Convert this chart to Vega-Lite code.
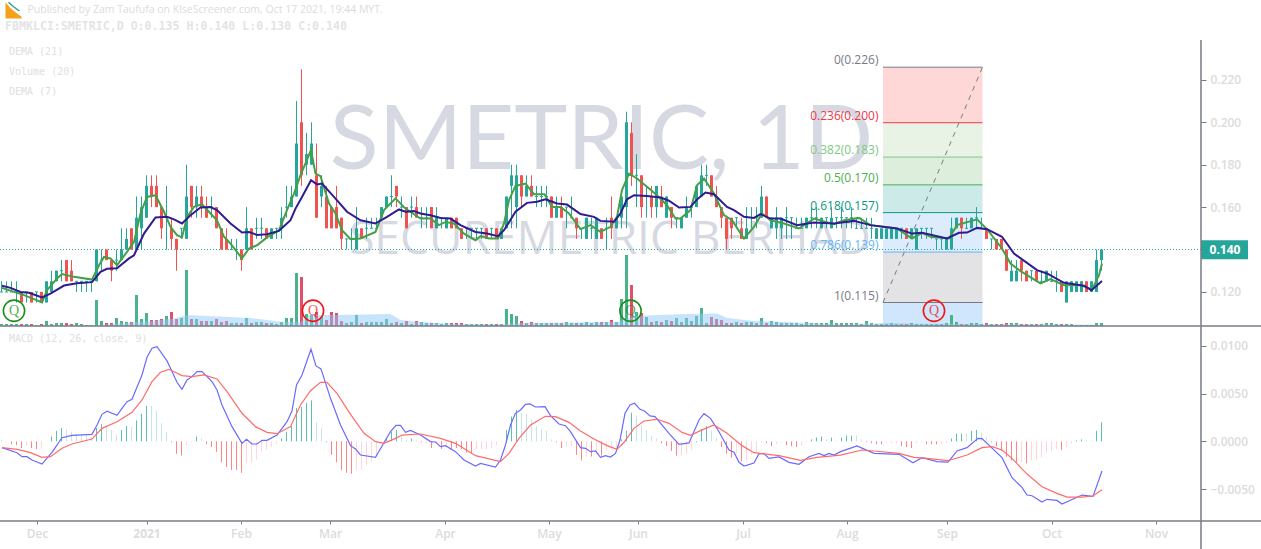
{
"$schema":"https://vega.github.io/schema/vega-lite/v6.json",
"background":"white","padding":{"left":-1,"top":-1,"right":60,"bottom":28},"spacing":0,"bounds":"flush",
"resolve":{"scale":{"color":"independent","fill":"independent","stroke":"independent"}},
"config":{"view":{"stroke":null},"font":"Open Sans"},
"datasets":{
"candles":[
{"i":-7,"o":0.12,"h":0.125,"l":0.12,"c":0.12,"v":2,"d":0.00014,"k":"uf"},
{"i":-6,"o":0.12,"h":0.125,"l":0.12,"c":0.12,"v":2,"d":0.00002,"k":"uf"},
{"i":-5,"o":0.12,"h":0.125,"l":0.12,"c":0.12,"v":2,"d":-0.0003,"k":"dn"},
{"i":-4,"o":0.12,"h":0.125,"l":0.115,"c":0.12,"v":2,"d":-0.0004,"k":"dn"},
{"i":-3,"o":0.12,"h":0.12,"l":0.115,"c":0.115,"v":2,"d":-0.0007,"k":"dn"},
{"i":-2,"o":0.12,"h":0.12,"l":0.115,"c":0.12,"v":2,"d":-0.00045,"k":"df"},
{"i":-1,"o":0.12,"h":0.12,"l":0.115,"c":0.115,"v":2,"d":-0.0007,"k":"dn"},
{"i":0,"o":0.12,"h":0.12,"l":0.115,"c":0.12,"v":1,"d":-0.0008,"k":"dn"},
{"i":1,"o":0.12,"h":0.12,"l":0.115,"c":0.115,"v":2,"d":-0.0008,"k":"df"},
{"i":2,"o":0.115,"h":0.125,"l":0.115,"c":0.125,"v":5,"d":-0.00003,"k":"df"},
{"i":3,"o":0.12,"h":0.13,"l":0.12,"c":0.125,"v":2,"d":0.0005,"k":"up"},
{"i":4,"o":0.125,"h":0.13,"l":0.125,"c":0.13,"v":3,"d":0.0011,"k":"up"},
{"i":5,"o":0.13,"h":0.135,"l":0.125,"c":0.13,"v":3,"d":0.0014,"k":"up"},
{"i":6,"o":0.135,"h":0.135,"l":0.125,"c":0.125,"v":3,"d":0.0012,"k":"uf"},
{"i":7,"o":0.13,"h":0.135,"l":0.125,"c":0.125,"v":2,"d":0.001,"k":"uf"},
{"i":8,"o":0.125,"h":0.125,"l":0.12,"c":0.125,"v":3,"d":0.0008,"k":"uf"},
{"i":9,"o":0.125,"h":0.125,"l":0.12,"c":0.125,"v":2,"d":0.0007,"k":"uf"},
{"i":10,"o":0.125,"h":0.125,"l":0.12,"c":0.125,"v":1,"d":0.0006,"k":"uf"},
{"i":11,"o":0.125,"h":0.125,"l":0.12,"c":0.125,"v":1,"d":0.0005,"k":"uf"},
{"i":12,"o":0.125,"h":0.14,"l":0.125,"c":0.14,"v":26,"d":0.0014,"k":"up"},
{"i":13,"o":0.135,"h":0.14,"l":0.13,"c":0.135,"v":5,"d":0.0018,"k":"up"},
{"i":14,"o":0.14,"h":0.14,"l":0.135,"c":0.135,"v":3,"d":0.0016,"k":"uf"},
{"i":15,"o":0.135,"h":0.135,"l":0.125,"c":0.13,"v":3,"d":0.0012,"k":"uf"},
{"i":16,"o":0.135,"h":0.14,"l":0.13,"c":0.135,"v":8,"d":0.0007,"k":"uf"},
{"i":17,"o":0.135,"h":0.15,"l":0.135,"c":0.14,"v":5,"d":0.0012,"k":"up"},
{"i":18,"o":0.14,"h":0.15,"l":0.14,"c":0.145,"v":4,"d":0.0016,"k":"up"},
{"i":19,"o":0.15,"h":0.15,"l":0.14,"c":0.14,"v":4,"d":0.0015,"k":"uf"},
{"i":20,"o":0.14,"h":0.165,"l":0.14,"c":0.155,"v":31,"d":0.0022,"k":"up"},
{"i":21,"o":0.15,"h":0.165,"l":0.14,"c":0.16,"v":7,"d":0.0029,"k":"up"},
{"i":22,"o":0.155,"h":0.175,"l":0.155,"c":0.17,"v":13,"d":0.0037,"k":"up"},
{"i":23,"o":0.17,"h":0.175,"l":0.16,"c":0.165,"v":6,"d":0.0037,"k":"uf"},
{"i":24,"o":0.17,"h":0.175,"l":0.16,"c":0.16,"v":6,"d":0.0032,"k":"uf"},
{"i":25,"o":0.16,"h":0.16,"l":0.145,"c":0.15,"v":7,"d":0.0019,"k":"uf"},
{"i":26,"o":0.155,"h":0.17,"l":0.14,"c":0.155,"v":10,"d":0.001,"k":"uf"},
{"i":27,"o":0.15,"h":0.155,"l":0.14,"c":0.145,"v":14,"d":-0.0001,"k":"dn"},
{"i":28,"o":0.145,"h":0.145,"l":0.13,"c":0.14,"v":7,"d":-0.0013,"k":"dn"},
{"i":29,"o":0.15,"h":0.15,"l":0.145,"c":0.15,"v":8,"d":-0.0015,"k":"dn"},
{"i":30,"o":0.145,"h":0.18,"l":0.145,"c":0.165,"v":56,"d":-0.0004,"k":"df"},
{"i":31,"o":0.17,"h":0.17,"l":0.155,"c":0.16,"v":7,"d":-0.0001,"k":"df"},
{"i":32,"o":0.16,"h":0.17,"l":0.155,"c":0.165,"v":7,"d":0.0005,"k":"up"},
{"i":33,"o":0.165,"h":0.17,"l":0.155,"c":0.16,"v":5,"d":0.0003,"k":"uf"},
{"i":34,"o":0.16,"h":0.165,"l":0.155,"c":0.155,"v":5,"d":-0.0003,"k":"dn"},
{"i":35,"o":0.16,"h":0.165,"l":0.155,"c":0.16,"v":5,"d":-0.0006,"k":"dn"},
{"i":36,"o":0.16,"h":0.16,"l":0.15,"c":0.15,"v":7,"d":-0.0011,"k":"dn"},
{"i":37,"o":0.15,"h":0.15,"l":0.14,"c":0.14,"v":4,"d":-0.0022,"k":"dn"},
{"i":38,"o":0.145,"h":0.15,"l":0.14,"c":0.14,"v":5,"d":-0.0027,"k":"dn"},
{"i":39,"o":0.14,"h":0.145,"l":0.14,"c":0.14,"v":3,"d":-0.003,"k":"dn"},
{"i":40,"o":0.14,"h":0.145,"l":0.135,"c":0.14,"v":3,"d":-0.003,"k":"dn"},
{"i":41,"o":0.14,"h":0.14,"l":0.13,"c":0.135,"v":3,"d":-0.0033,"k":"dn"},
{"i":42,"o":0.14,"h":0.16,"l":0.14,"c":0.15,"v":8,"d":-0.0023,"k":"df"},
{"i":43,"o":0.15,"h":0.15,"l":0.14,"c":0.14,"v":3,"d":-0.0022,"k":"df"},
{"i":44,"o":0.15,"h":0.155,"l":0.145,"c":0.15,"v":4,"d":-0.0019,"k":"df"},
{"i":45,"o":0.15,"h":0.155,"l":0.145,"c":0.15,"v":4,"d":-0.0011,"k":"df"},
{"i":46,"o":0.15,"h":0.15,"l":0.145,"c":0.145,"v":3,"d":-0.0009,"k":"df"},
{"i":47,"o":0.145,"h":0.15,"l":0.145,"c":0.15,"v":3,"d":-0.0006,"k":"df"},
{"i":48,"o":0.15,"h":0.15,"l":0.145,"c":0.15,"v":2,"d":-0.0003,"k":"df"},
{"i":49,"o":0.15,"h":0.16,"l":0.145,"c":0.155,"v":4,"d":0.0003,"k":"up"},
{"i":50,"o":0.16,"h":0.17,"l":0.155,"c":0.16,"v":8,"d":0.001,"k":"up"},
{"i":51,"o":0.16,"h":0.17,"l":0.16,"c":0.165,"v":8,"d":0.0016,"k":"up"},
{"i":52,"o":0.165,"h":0.21,"l":0.165,"c":0.19,"v":53,"d":0.0035,"k":"up"},
{"i":53,"o":0.2,"h":0.225,"l":0.17,"c":0.175,"v":49,"d":0.0036,"k":"up"},
{"i":54,"o":0.18,"h":0.195,"l":0.175,"c":0.185,"v":12,"d":0.004,"k":"up"},
{"i":55,"o":0.18,"h":0.2,"l":0.18,"c":0.19,"v":11,"d":0.0043,"k":"up"},
{"i":56,"o":0.175,"h":0.19,"l":0.155,"c":0.155,"v":14,"d":0.002,"k":"uf"},
{"i":57,"o":0.165,"h":0.175,"l":0.16,"c":0.17,"v":9,"d":0.0014,"k":"uf"},
{"i":58,"o":0.165,"h":0.17,"l":0.15,"c":0.15,"v":6,"d":-0.0001,"k":"dn"},
{"i":59,"o":0.16,"h":0.16,"l":0.15,"c":0.15,"v":14,"d":-0.0014,"k":"dn"},
{"i":60,"o":0.16,"h":0.17,"l":0.15,"c":0.15,"v":13,"d":-0.0022,"k":"dn"},
{"i":61,"o":0.155,"h":0.155,"l":0.14,"c":0.145,"v":5,"d":-0.003,"k":"dn"},
{"i":62,"o":0.145,"h":0.145,"l":0.14,"c":0.145,"v":3,"d":-0.0033,"k":"dn"},
{"i":63,"o":0.145,"h":0.15,"l":0.14,"c":0.145,"v":4,"d":-0.0034,"k":"dn"},
{"i":64,"o":0.14,"h":0.16,"l":0.14,"c":0.15,"v":11,"d":-0.003,"k":"df"},
{"i":65,"o":0.15,"h":0.15,"l":0.145,"c":0.145,"v":3,"d":-0.003,"k":"df"},
{"i":66,"o":0.15,"h":0.155,"l":0.145,"c":0.15,"v":4,"d":-0.0025,"k":"df"},
{"i":67,"o":0.15,"h":0.155,"l":0.15,"c":0.15,"v":4,"d":-0.0021,"k":"df"},
{"i":68,"o":0.15,"h":0.155,"l":0.15,"c":0.15,"v":4,"d":-0.0015,"k":"df"},
{"i":69,"o":0.155,"h":0.16,"l":0.155,"c":0.16,"v":4,"d":-0.0001,"k":"df"},
{"i":70,"o":0.16,"h":0.165,"l":0.16,"c":0.165,"v":7,"d":0.0003,"k":"up"},
{"i":71,"o":0.165,"h":0.175,"l":0.16,"c":0.165,"v":3,"d":0.001,"k":"up"},
{"i":72,"o":0.17,"h":0.17,"l":0.16,"c":0.165,"v":4,"d":0.0012,"k":"up"},
{"i":73,"o":0.16,"h":0.165,"l":0.155,"c":0.16,"v":3,"d":0.0005,"k":"uf"},
{"i":74,"o":0.16,"h":0.16,"l":0.15,"c":0.15,"v":5,"d":0.0002,"k":"uf"},
{"i":75,"o":0.16,"h":0.165,"l":0.155,"c":0.16,"v":2,"d":0.0003,"k":"up"},
{"i":76,"o":0.16,"h":0.165,"l":0.155,"c":0.155,"v":5,"d":0.0001,"k":"uf"},
{"i":77,"o":0.155,"h":0.16,"l":0.15,"c":0.155,"v":4,"d":-0.0001,"k":"dn"},
{"i":78,"o":0.155,"h":0.16,"l":0.15,"c":0.155,"v":3,"d":-0.0002,"k":"df"},
{"i":79,"o":0.16,"h":0.16,"l":0.15,"c":0.15,"v":3,"d":-0.0007,"k":"dn"},
{"i":80,"o":0.15,"h":0.16,"l":0.15,"c":0.155,"v":3,"d":-0.0003,"k":"df"},
{"i":81,"o":0.155,"h":0.155,"l":0.15,"c":0.155,"v":2,"d":-0.0008,"k":"dn"},
{"i":82,"o":0.15,"h":0.155,"l":0.15,"c":0.155,"v":3,"d":-0.0004,"k":"df"},
{"i":83,"o":0.155,"h":0.155,"l":0.15,"c":0.15,"v":3,"d":-0.0008,"k":"dn"},
{"i":84,"o":0.155,"h":0.155,"l":0.15,"c":0.15,"v":3,"d":-0.0007,"k":"dn"},
{"i":85,"o":0.15,"h":0.15,"l":0.145,"c":0.145,"v":3,"d":-0.0008,"k":"dn"},
{"i":86,"o":0.15,"h":0.15,"l":0.145,"c":0.15,"v":2,"d":-0.0012,"k":"dn"},
{"i":87,"o":0.15,"h":0.15,"l":0.145,"c":0.15,"v":2,"d":-0.0013,"k":"dn"},
{"i":88,"o":0.15,"h":0.15,"l":0.145,"c":0.15,"v":2,"d":-0.0008,"k":"df"},
{"i":89,"o":0.15,"h":0.15,"l":0.145,"c":0.15,"v":2,"d":-0.0008,"k":"df"},
{"i":90,"o":0.15,"h":0.15,"l":0.145,"c":0.145,"v":2,"d":-0.0008,"k":"df"},
{"i":91,"o":0.15,"h":0.15,"l":0.145,"c":0.15,"v":2,"d":-0.0007,"k":"df"},
{"i":92,"o":0.15,"h":0.15,"l":0.145,"c":0.145,"v":2,"d":-0.0004,"k":"df"},
{"i":93,"o":0.145,"h":0.15,"l":0.145,"c":0.15,"v":2,"d":-0.0001,"k":"df"},
{"i":94,"o":0.15,"h":0.165,"l":0.15,"c":0.165,"v":17,"d":0.0012,"k":"up"},
{"i":95,"o":0.17,"h":0.18,"l":0.15,"c":0.175,"v":12,"d":0.0026,"k":"up"},
{"i":96,"o":0.16,"h":0.18,"l":0.15,"c":0.175,"v":10,"d":0.0033,"k":"up"},
{"i":97,"o":0.175,"h":0.175,"l":0.16,"c":0.165,"v":5,"d":0.003,"k":"uf"},
{"i":98,"o":0.165,"h":0.175,"l":0.165,"c":0.17,"v":3,"d":0.0029,"k":"uf"},
{"i":99,"o":0.17,"h":0.175,"l":0.165,"c":0.165,"v":4,"d":0.0023,"k":"uf"},
{"i":100,"o":0.165,"h":0.17,"l":0.16,"c":0.165,"v":3,"d":0.0016,"k":"uf"},
{"i":101,"o":0.165,"h":0.17,"l":0.16,"c":0.165,"v":3,"d":0.0013,"k":"uf"},
{"i":102,"o":0.165,"h":0.17,"l":0.16,"c":0.165,"v":3,"d":0.0011,"k":"uf"},
{"i":103,"o":0.165,"h":0.165,"l":0.155,"c":0.155,"v":3,"d":0.0002,"k":"uf"},
{"i":104,"o":0.155,"h":0.165,"l":0.155,"c":0.16,"v":3,"d":-0.0001,"k":"dn"},
{"i":105,"o":0.16,"h":0.165,"l":0.155,"c":0.155,"v":3,"d":-0.0007,"k":"dn"},
{"i":106,"o":0.16,"h":0.16,"l":0.15,"c":0.16,"v":4,"d":-0.0006,"k":"df"},
{"i":107,"o":0.155,"h":0.165,"l":0.155,"c":0.155,"v":3,"d":-0.0005,"k":"df"},
{"i":108,"o":0.155,"h":0.155,"l":0.145,"c":0.15,"v":3,"d":-0.0014,"k":"dn"},
{"i":109,"o":0.15,"h":0.15,"l":0.145,"c":0.15,"v":3,"d":-0.002,"k":"dn"},
{"i":110,"o":0.145,"h":0.155,"l":0.145,"c":0.155,"v":4,"d":-0.0016,"k":"df"},
{"i":111,"o":0.15,"h":0.155,"l":0.145,"c":0.15,"v":3,"d":-0.0016,"k":"dn"},
{"i":112,"o":0.145,"h":0.155,"l":0.145,"c":0.155,"v":4,"d":-0.0014,"k":"df"},
{"i":113,"o":0.15,"h":0.15,"l":0.145,"c":0.145,"v":4,"d":-0.0015,"k":"dn"},
{"i":114,"o":0.15,"h":0.155,"l":0.14,"c":0.15,"v":4,"d":-0.001,"k":"df"},
{"i":115,"o":0.155,"h":0.165,"l":0.145,"c":0.15,"v":6,"d":-0.0009,"k":"df"},
{"i":116,"o":0.15,"h":0.155,"l":0.15,"c":0.155,"v":4,"d":-0.0008,"k":"df"},
{"i":117,"o":0.155,"h":0.165,"l":0.15,"c":0.165,"v":27,"d":0.0002,"k":"up"},
{"i":118,"o":0.16,"h":0.205,"l":0.15,"c":0.2,"v":71,"d":0.0011,"k":"up"},
{"i":119,"o":0.195,"h":0.2,"l":0.17,"c":0.175,"v":41,"d":0.003,"k":"up"},
{"i":120,"o":0.175,"h":0.185,"l":0.16,"c":0.175,"v":14,"d":0.0027,"k":"uf"},
{"i":121,"o":0.175,"h":0.175,"l":0.155,"c":0.16,"v":13,"d":0.0017,"k":"uf"},
{"i":122,"o":0.165,"h":0.17,"l":0.155,"c":0.165,"v":9,"d":0.0012,"k":"uf"},
{"i":123,"o":0.165,"h":0.17,"l":0.155,"c":0.16,"v":4,"d":0.0006,"k":"uf"},
{"i":124,"o":0.16,"h":0.17,"l":0.155,"c":0.17,"v":5,"d":0.0003,"k":"uf"},
{"i":125,"o":0.165,"h":0.17,"l":0.16,"c":0.16,"v":4,"d":-0.0002,"k":"dn"},
{"i":126,"o":0.155,"h":0.165,"l":0.155,"c":0.165,"v":6,"d":-0.0005,"k":"dn"},
{"i":127,"o":0.16,"h":0.16,"l":0.15,"c":0.155,"v":5,"d":-0.001,"k":"dn"},
{"i":128,"o":0.155,"h":0.155,"l":0.15,"c":0.155,"v":8,"d":-0.0015,"k":"dn"},
{"i":129,"o":0.15,"h":0.155,"l":0.15,"c":0.155,"v":4,"d":-0.0015,"k":"df"},
{"i":130,"o":0.155,"h":0.165,"l":0.155,"c":0.16,"v":8,"d":-0.0013,"k":"df"},
{"i":131,"o":0.16,"h":0.16,"l":0.155,"c":0.16,"v":5,"d":-0.0009,"k":"df"},
{"i":132,"o":0.16,"h":0.17,"l":0.16,"c":0.17,"v":10,"d":-0.0001,"k":"up"},
{"i":133,"o":0.165,"h":0.18,"l":0.165,"c":0.175,"v":18,"d":0.0013,"k":"up"},
{"i":134,"o":0.175,"h":0.18,"l":0.17,"c":0.175,"v":3,"d":0.0016,"k":"up"},
{"i":135,"o":0.175,"h":0.175,"l":0.165,"c":0.165,"v":9,"d":0.0011,"k":"uf"},
{"i":136,"o":0.165,"h":0.17,"l":0.16,"c":0.16,"v":7,"d":0.0004,"k":"uf"},
{"i":137,"o":0.16,"h":0.16,"l":0.15,"c":0.155,"v":6,"d":-0.0006,"k":"dn"},
{"i":138,"o":0.155,"h":0.155,"l":0.14,"c":0.145,"v":3,"d":-0.0013,"k":"dn"},
{"i":139,"o":0.155,"h":0.155,"l":0.145,"c":0.15,"v":3,"d":-0.0017,"k":"dn"},
{"i":140,"o":0.155,"h":0.155,"l":0.15,"c":0.155,"v":4,"d":-0.0013,"k":"df"},
{"i":141,"o":0.15,"h":0.155,"l":0.145,"c":0.145,"v":3,"d":-0.0021,"k":"dn"},
{"i":142,"o":0.145,"h":0.16,"l":0.145,"c":0.15,"v":4,"d":-0.0021,"k":"df"},
{"i":143,"o":0.155,"h":0.16,"l":0.15,"c":0.155,"v":4,"d":-0.0014,"k":"df"},
{"i":144,"o":0.155,"h":0.16,"l":0.15,"c":0.155,"v":3,"d":-0.0011,"k":"df"},
{"i":145,"o":0.155,"h":0.17,"l":0.155,"c":0.165,"v":8,"d":-0.0001,"k":"df"},
{"i":146,"o":0.165,"h":0.165,"l":0.155,"c":0.155,"v":3,"d":-0.0002,"k":"dn"},
{"i":147,"o":0.15,"h":0.155,"l":0.15,"c":0.155,"v":5,"d":-0.0005,"k":"dn"},
{"i":148,"o":0.15,"h":0.16,"l":0.145,"c":0.155,"v":4,"d":-0.0003,"k":"df"},
{"i":149,"o":0.15,"h":0.155,"l":0.145,"c":0.155,"v":3,"d":-0.0001,"k":"df"},
{"i":150,"o":0.155,"h":0.16,"l":0.145,"c":0.155,"v":3,"d":-0.0004,"k":"dn"},
{"i":151,"o":0.155,"h":0.155,"l":0.145,"c":0.155,"v":3,"d":-0.0005,"k":"dn"},
{"i":152,"o":0.15,"h":0.155,"l":0.15,"c":0.15,"v":3,"d":-0.0006,"k":"dn"},
{"i":153,"o":0.15,"h":0.155,"l":0.15,"c":0.15,"v":2,"d":-0.0004,"k":"df"},
{"i":154,"o":0.15,"h":0.155,"l":0.15,"c":0.155,"v":4,"d":-0.0001,"k":"df"},
{"i":155,"o":0.155,"h":0.16,"l":0.15,"c":0.155,"v":3,"d":0.0002,"k":"up"},
{"i":156,"o":0.155,"h":0.16,"l":0.15,"c":0.155,"v":3,"d":0.0004,"k":"up"},
{"i":157,"o":0.15,"h":0.155,"l":0.15,"c":0.155,"v":3,"d":0.0005,"k":"up"},
{"i":158,"o":0.155,"h":0.155,"l":0.15,"c":0.155,"v":3,"d":0.0002,"k":"uf"},
{"i":159,"o":0.15,"h":0.16,"l":0.15,"c":0.155,"v":6,"d":0.0004,"k":"up"},
{"i":160,"o":0.155,"h":0.155,"l":0.15,"c":0.155,"v":3,"d":0.0001,"k":"uf"},
{"i":161,"o":0.155,"h":0.16,"l":0.15,"c":0.155,"v":3,"d":0.0004,"k":"up"},
{"i":162,"o":0.155,"h":0.155,"l":0.15,"c":0.155,"v":3,"d":0.0006,"k":"up"},
{"i":163,"o":0.155,"h":0.16,"l":0.15,"c":0.155,"v":3,"d":0.0006,"k":"up"},
{"i":164,"o":0.15,"h":0.155,"l":0.15,"c":0.15,"v":3,"d":0.0006,"k":"uf"},
{"i":165,"o":0.15,"h":0.155,"l":0.15,"c":0.15,"v":2,"d":0.0002,"k":"uf"},
{"i":166,"o":0.15,"h":0.155,"l":0.15,"c":0.15,"v":5,"d":-0.0001,"k":"dn"},
{"i":167,"o":0.15,"h":0.155,"l":0.145,"c":0.15,"v":3,"d":-0.0002,"k":"dn"},
{"i":168,"o":0.145,"h":0.15,"l":0.145,"c":0.15,"v":2,"d":-0.0003,"k":"dn"},
{"i":169,"o":0.145,"h":0.15,"l":0.145,"c":0.15,"v":2,"d":-0.0003,"k":"dn"},
{"i":170,"o":0.145,"h":0.15,"l":0.145,"c":0.15,"v":2,"d":-0.0002,"k":"df"},
{"i":171,"o":0.145,"h":0.15,"l":0.145,"c":0.15,"v":3,"d":-0.0002,"k":"df"},
{"i":172,"o":0.145,"h":0.15,"l":0.145,"c":0.15,"v":2,"d":-0.0002,"k":"df"},
{"i":173,"o":0.15,"h":0.15,"l":0.145,"c":0.15,"v":2,"d":-0.0005,"k":"dn"},
{"i":174,"o":0.15,"h":0.15,"l":0.145,"c":0.145,"v":2,"d":-0.0006,"k":"dn"},
{"i":175,"o":0.145,"h":0.15,"l":0.145,"c":0.15,"v":3,"d":-0.0007,"k":"dn"},
{"i":176,"o":0.14,"h":0.15,"l":0.14,"c":0.15,"v":2,"d":-0.0002,"k":"df"},
{"i":177,"o":0.15,"h":0.15,"l":0.145,"c":0.15,"v":2,"d":-0.0001,"k":"df"},
{"i":178,"o":0.15,"h":0.15,"l":0.145,"c":0.15,"v":2,"d":-0.0003,"k":"dn"},
{"i":179,"o":0.15,"h":0.15,"l":0.145,"c":0.15,"v":2,"d":-0.0003,"k":"dn"},
{"i":180,"o":0.145,"h":0.145,"l":0.14,"c":0.145,"v":2,"d":-0.0003,"k":"dn"},
{"i":181,"o":0.145,"h":0.145,"l":0.14,"c":0.145,"v":2,"d":-0.0003,"k":"df"},
{"i":182,"o":0.14,"h":0.145,"l":0.14,"c":0.145,"v":3,"d":-0.0002,"k":"df"},
{"i":183,"o":0.14,"h":0.155,"l":0.14,"c":0.15,"v":11,"d":0.0003,"k":"up"},
{"i":184,"o":0.15,"h":0.155,"l":0.15,"c":0.155,"v":4,"d":0.0008,"k":"up"},
{"i":185,"o":0.155,"h":0.155,"l":0.145,"c":0.15,"v":2,"d":0.0008,"k":"up"},
{"i":186,"o":0.15,"h":0.155,"l":0.15,"c":0.15,"v":2,"d":0.0008,"k":"uf"},
{"i":187,"o":0.15,"h":0.155,"l":0.15,"c":0.155,"v":3,"d":0.0011,"k":"up"},
{"i":188,"o":0.155,"h":0.16,"l":0.15,"c":0.155,"v":3,"d":0.0012,"k":"up"},
{"i":189,"o":0.15,"h":0.155,"l":0.15,"c":0.15,"v":2,"d":0.0009,"k":"uf"},
{"i":190,"o":0.15,"h":0.15,"l":0.145,"c":0.145,"v":3,"d":0.0004,"k":"uf"},
{"i":191,"o":0.145,"h":0.145,"l":0.14,"c":0.145,"v":2,"d":-0.0001,"k":"dn"},
{"i":192,"o":0.145,"h":0.145,"l":0.14,"c":0.14,"v":2,"d":-0.0005,"k":"dn"},
{"i":193,"o":0.145,"h":0.145,"l":0.14,"c":0.14,"v":2,"d":-0.001,"k":"dn"},
{"i":194,"o":0.14,"h":0.14,"l":0.13,"c":0.13,"v":3,"d":-0.0016,"k":"dn"},
{"i":195,"o":0.125,"h":0.135,"l":0.125,"c":0.13,"v":3,"d":-0.002,"k":"dn"},
{"i":196,"o":0.125,"h":0.135,"l":0.125,"c":0.13,"v":3,"d":-0.0022,"k":"dn"},
{"i":197,"o":0.135,"h":0.135,"l":0.125,"c":0.13,"v":2,"d":-0.0022,"k":"df"},
{"i":198,"o":0.13,"h":0.13,"l":0.125,"c":0.125,"v":2,"d":-0.0023,"k":"dn"},
{"i":199,"o":0.13,"h":0.13,"l":0.125,"c":0.13,"v":2,"d":-0.002,"k":"df"},
{"i":200,"o":0.13,"h":0.13,"l":0.125,"c":0.125,"v":2,"d":-0.0019,"k":"df"},
{"i":201,"o":0.125,"h":0.13,"l":0.125,"c":0.125,"v":2,"d":-0.0017,"k":"df"},
{"i":202,"o":0.125,"h":0.13,"l":0.125,"c":0.13,"v":3,"d":-0.0012,"k":"df"},
{"i":203,"o":0.125,"h":0.13,"l":0.125,"c":0.125,"v":3,"d":-0.001,"k":"df"},
{"i":204,"o":0.125,"h":0.13,"l":0.12,"c":0.125,"v":2,"d":-0.0008,"k":"df"},
{"i":205,"o":0.125,"h":0.125,"l":0.12,"c":0.12,"v":2,"d":-0.0009,"k":"dn"},
{"i":206,"o":0.115,"h":0.125,"l":0.115,"c":0.125,"v":2,"d":-0.0006,"k":"df"},
{"i":207,"o":0.12,"h":0.125,"l":0.12,"c":0.125,"v":2,"d":-0.0002,"k":"df"},
{"i":208,"o":0.12,"h":0.125,"l":0.12,"c":0.125,"v":1,"d":0.0001,"k":"up"},
{"i":209,"o":0.12,"h":0.125,"l":0.12,"c":0.125,"v":1,"d":0.0002,"k":"up"},
{"i":210,"o":0.125,"h":0.125,"l":0.12,"c":0.12,"v":1,"d":0.0001,"k":"uf"},
{"i":211,"o":0.12,"h":0.125,"l":0.12,"c":0.125,"v":1,"d":0.0001,"k":"uf"},
{"i":212,"o":0.12,"h":0.14,"l":0.12,"c":0.135,"v":3,"d":0.0011,"k":"up"},
{"i":213,"o":0.135,"h":0.14,"l":0.13,"c":0.14,"v":3,"d":0.002,"k":"up"}
],
"vma":[{"i":-7.2,"v":1},{"i":12.8,"v":1},{"i":22.8,"v":5},{"i":27.5,"v":7.5},{"i":30.1,"v":11},{"i":34.1,"v":10},{"i":42.8,"v":8},{"i":49.5,"v":4},{"i":52.8,"v":4},{"i":54.8,"v":11},{"i":59.5,"v":11},{"i":70.8,"v":12},{"i":72.8,"v":6},{"i":76.8,"v":4},{"i":83.5,"v":2},{"i":92.8,"v":1.5},{"i":96.8,"v":3},{"i":116.1,"v":4},{"i":119.5,"v":10},{"i":130.1,"v":12},{"i":136.1,"v":12.5},{"i":138.1,"v":8},{"i":143.5,"v":5},{"i":150.1,"v":4},{"i":160.8,"v":1.5},{"i":170,"v":3},{"i":183,"v":2},{"i":213,"v":1.3}],
"dema21":[{"i":-6.9,"p":0.1229},{"i":-5.2,"p":0.1219},{"i":-3.2,"p":0.12},{"i":-1.5,"p":0.1196},{"i":1.1,"p":0.1174},{"i":2.8,"p":0.1192},{"i":5.5,"p":0.123},{"i":8.1,"p":0.1241},{"i":11.1,"p":0.1246},{"i":12.8,"p":0.1295},{"i":14.1,"p":0.1309},{"i":16.1,"p":0.1312},{"i":18.5,"p":0.1358},{"i":19.5,"p":0.1373},{"i":21.5,"p":0.1475},{"i":23.8,"p":0.1551},{"i":26.1,"p":0.1554},{"i":27.5,"p":0.1542},{"i":29.1,"p":0.1523},{"i":30.8,"p":0.1562},{"i":32.8,"p":0.1598},{"i":34.8,"p":0.16},{"i":36.1,"p":0.1586},{"i":38.8,"p":0.1523},{"i":41.1,"p":0.148},{"i":42.5,"p":0.1482},{"i":44.1,"p":0.1469},{"i":46.1,"p":0.1472},{"i":48.5,"p":0.1488},{"i":50.8,"p":0.1538},{"i":51.8,"p":0.1593},{"i":53.1,"p":0.1648},{"i":54.9,"p":0.1727},{"i":56.1,"p":0.1707},{"i":57.1,"p":0.1711},{"i":59.5,"p":0.1648},{"i":62.1,"p":0.1578},{"i":64.8,"p":0.1538},{"i":67.8,"p":0.1523},{"i":70.1,"p":0.1554},{"i":72.5,"p":0.1589},{"i":73.8,"p":0.1578},{"i":75.5,"p":0.1581},{"i":76.8,"p":0.157},{"i":78.8,"p":0.1562},{"i":80.8,"p":0.1549},{"i":82.8,"p":0.1546},{"i":84.8,"p":0.1515},{"i":87.8,"p":0.1483},{"i":90.1,"p":0.1475},{"i":92.3,"p":0.1463},{"i":93.5,"p":0.1491},{"i":95.8,"p":0.1578},{"i":98.1,"p":0.162},{"i":100.1,"p":0.1625},{"i":101.8,"p":0.1637},{"i":104.1,"p":0.1617},{"i":106.1,"p":0.1612},{"i":108.8,"p":0.1567},{"i":111.5,"p":0.1554},{"i":112.8,"p":0.1535},{"i":115.5,"p":0.1531},{"i":116.8,"p":0.157},{"i":118.1,"p":0.1637},{"i":119.5,"p":0.1656},{"i":122.1,"p":0.1652},{"i":124.8,"p":0.1645},{"i":126.5,"p":0.163},{"i":128.5,"p":0.1598},{"i":130.8,"p":0.1601},{"i":132.1,"p":0.1636},{"i":133.8,"p":0.1669},{"i":135.5,"p":0.1661},{"i":138.1,"p":0.1601},{"i":139.5,"p":0.1586},{"i":141.5,"p":0.1554},{"i":143.5,"p":0.1549},{"i":144.8,"p":0.1567},{"i":146.8,"p":0.1546},{"i":148.8,"p":0.1546},{"i":152.1,"p":0.1515},{"i":155.5,"p":0.1527},{"i":159.5,"p":0.1523},{"i":163.5,"p":0.1535},{"i":166.8,"p":0.1515},{"i":172.1,"p":0.1499},{"i":175.1,"p":0.1475},{"i":177.1,"p":0.1479},{"i":182.1,"p":0.1452},{"i":184.5,"p":0.1479},{"i":186.1,"p":0.148},{"i":188.1,"p":0.1502},{"i":190.1,"p":0.1496},{"i":193.1,"p":0.146},{"i":195.5,"p":0.1381},{"i":198.1,"p":0.1337},{"i":200.1,"p":0.1303},{"i":202.1,"p":0.1287},{"i":205.5,"p":0.1243},{"i":209.5,"p":0.1229},{"i":211,"p":0.1208},{"i":213.1,"p":0.1252}],
"dema7":[{"i":-6.9,"p":0.1219},{"i":-4.5,"p":0.12},{"i":-2.5,"p":0.1185},{"i":-0.5,"p":0.1166},{"i":1.1,"p":0.115},{"i":2.1,"p":0.1208},{"i":4.1,"p":0.1263},{"i":5.1,"p":0.1284},{"i":7.5,"p":0.1271},{"i":11.1,"p":0.1258},{"i":12.5,"p":0.1326},{"i":13.5,"p":0.1365},{"i":14.8,"p":0.1358},{"i":16.1,"p":0.1326},{"i":18.1,"p":0.1389},{"i":19.5,"p":0.1436},{"i":20.8,"p":0.157},{"i":22.1,"p":0.1648},{"i":23.8,"p":0.1656},{"i":25.5,"p":0.1578},{"i":26.8,"p":0.1507},{"i":28.1,"p":0.1468},{"i":29.1,"p":0.1457},{"i":30.1,"p":0.1554},{"i":31.5,"p":0.1601},{"i":33.1,"p":0.1614},{"i":34.8,"p":0.157},{"i":36.1,"p":0.1538},{"i":37.5,"p":0.146},{"i":38.8,"p":0.1428},{"i":41.1,"p":0.1358},{"i":42.5,"p":0.1405},{"i":44.1,"p":0.142},{"i":46.1,"p":0.1457},{"i":48.5,"p":0.1491},{"i":50.1,"p":0.1586},{"i":51.5,"p":0.1664},{"i":52.8,"p":0.1751},{"i":53.8,"p":0.1806},{"i":54.9,"p":0.1869},{"i":55.8,"p":0.1758},{"i":56.8,"p":0.1746},{"i":58.5,"p":0.1617},{"i":59.8,"p":0.157},{"i":61.1,"p":0.1491},{"i":62.8,"p":0.1449},{"i":64.8,"p":0.1452},{"i":67.8,"p":0.1483},{"i":69.5,"p":0.1586},{"i":71.8,"p":0.1641},{"i":73.8,"p":0.1593},{"i":76.8,"p":0.1546},{"i":78.8,"p":0.1546},{"i":80.5,"p":0.1515},{"i":81.8,"p":0.153},{"i":83.5,"p":0.1523},{"i":85.5,"p":0.1475},{"i":87.8,"p":0.1444},{"i":88.8,"p":0.1463},{"i":90.5,"p":0.1452},{"i":92.3,"p":0.1452},{"i":93.5,"p":0.1523},{"i":94.5,"p":0.1633},{"i":95.8,"p":0.17},{"i":97.8,"p":0.1711},{"i":99.5,"p":0.1661},{"i":101.6,"p":0.1661},{"i":103.1,"p":0.1601},{"i":104.8,"p":0.1601},{"i":106.5,"p":0.157},{"i":108.8,"p":0.1496},{"i":110.8,"p":0.1515},{"i":112.8,"p":0.1483},{"i":114.8,"p":0.1507},{"i":116.1,"p":0.1554},{"i":117.1,"p":0.168},{"i":118.5,"p":0.1758},{"i":120.1,"p":0.1735},{"i":122.1,"p":0.1696},{"i":124.1,"p":0.1656},{"i":126.1,"p":0.1609},{"i":127.8,"p":0.1546},{"i":128.8,"p":0.1546},{"i":130.8,"p":0.1586},{"i":132.1,"p":0.1703},{"i":133.5,"p":0.1735},{"i":135.5,"p":0.1664},{"i":137.5,"p":0.1562},{"i":139.1,"p":0.1538},{"i":141.5,"p":0.1452},{"i":143.5,"p":0.1507},{"i":145.1,"p":0.157},{"i":146.8,"p":0.1538},{"i":149.5,"p":0.1523},{"i":152.5,"p":0.1499},{"i":155.5,"p":0.1546},{"i":159.5,"p":0.1519},{"i":161.5,"p":0.1538},{"i":164.5,"p":0.1549},{"i":166.8,"p":0.1515},{"i":172.1,"p":0.1499},{"i":175.1,"p":0.1452},{"i":177.1,"p":0.1479},{"i":178.8,"p":0.146},{"i":182.5,"p":0.1452},{"i":184.1,"p":0.1515},{"i":188.1,"p":0.1542},{"i":190.1,"p":0.1496},{"i":193.1,"p":0.1405},{"i":194.8,"p":0.1334},{"i":196.8,"p":0.1298},{"i":200.8,"p":0.124},{"i":202.8,"p":0.126},{"i":205.5,"p":0.1232},{"i":208.8,"p":0.1232},{"i":211.1,"p":0.1211},{"i":212.5,"p":0.1279},{"i":213.1,"p":0.1334}],
"macd":[{"i":-6.9,"m":-0.00066},{"i":-3.9,"m":-0.00119},{"i":-2.9,"m":-0.00161},{"i":-1.9,"m":-0.00161},{"i":-0.9,"m":-0.00196},{"i":1.1,"m":-0.00238},{"i":3.1,"m":-0.00115},{"i":5.1,"m":0.00038},{"i":7.1,"m":0.00063},{"i":11.1,"m":0.00073},{"i":12.1,"m":0.00171},{"i":13.1,"m":0.00283},{"i":14.1,"m":0.00315},{"i":16.1,"m":0.00273},{"i":17.1,"m":0.00346},{"i":18.1,"m":0.00416},{"i":19.1,"m":0.00441},{"i":21.1,"m":0.00696},{"i":22.1,"m":0.00881},{"i":23.1,"m":0.00976},{"i":24.1,"m":0.00993},{"i":26.1,"m":0.00843},{"i":27.1,"m":0.00731},{"i":28.1,"m":0.00619},{"i":29.1,"m":0.00545},{"i":30.1,"m":0.00643},{"i":31.1,"m":0.00678},{"i":32.1,"m":0.00731},{"i":33.1,"m":0.00731},{"i":35.1,"m":0.00626},{"i":36.1,"m":0.00538},{"i":37.1,"m":0.00381},{"i":39.1,"m":0.00154},{"i":41.1,"m":-0.00021},{"i":42,"m":0.00021},{"i":43.1,"m":-0.00028},{"i":44.1,"m":-0.00028},{"i":45.1,"m":0.0001},{"i":46.1,"m":0.0001},{"i":48.1,"m":0.00066},{"i":50.1,"m":0.00206},{"i":51.1,"m":0.00318},{"i":52,"m":0.00591},{"i":53.1,"m":0.00696},{"i":54.9,"m":0.00965},{"i":55.9,"m":0.0079},{"i":56.9,"m":0.00759},{"i":58.8,"m":0.00451},{"i":60.8,"m":0.00171},{"i":62.8,"m":-0.00045},{"i":63.8,"m":-0.0008},{"i":64.8,"m":-0.00143},{"i":67.8,"m":-0.00168},{"i":69.8,"m":0.00014},{"i":70.8,"m":0.00101},{"i":71.9,"m":0.00168},{"i":72.8,"m":0.00168},{"i":73.8,"m":0.00094},{"i":74.8,"m":0.00115},{"i":76.8,"m":0.00066},{"i":78.8,"m":-0.00003},{"i":79.8,"m":-0.00007},{"i":80.8,"m":-0.00056},{"i":81.8,"m":-0.00045},{"i":83.8,"m":-0.00108},{"i":85.5,"m":-0.00196},{"i":87.8,"m":-0.00259},{"i":88.8,"m":-0.00231},{"i":91.8,"m":-0.00269},{"i":92.8,"m":-0.00196},{"i":93.8,"m":-0.00038},{"i":94.8,"m":0.00171},{"i":95.8,"m":0.00294},{"i":96.8,"m":0.00329},{"i":97.8,"m":0.00388},{"i":98.7,"m":0.00392},{"i":99.8,"m":0.0036},{"i":101.7,"m":0.00364},{"i":102.8,"m":0.00269},{"i":104.5,"m":0.00182},{"i":105.8,"m":0.00164},{"i":106.8,"m":0.00101},{"i":108.8,"m":-0.00066},{"i":109.8,"m":-0.00073},{"i":110.8,"m":-0.00108},{"i":111.8,"m":-0.00101},{"i":112.8,"m":-0.00168},{"i":113.8,"m":-0.0015},{"i":114.8,"m":-0.00164},{"i":115.8,"m":-0.00126},{"i":116.7,"m":0.00014},{"i":117.7,"m":0.00294},{"i":118.7,"m":0.00381},{"i":119.6,"m":0.00399},{"i":120.7,"m":0.00336},{"i":121.6,"m":0.00318},{"i":122.7,"m":0.00266},{"i":123.7,"m":0.00259},{"i":126.5,"m":0.00084},{"i":128.5,"m":-0.00031},{"i":130.5,"m":-0.00017},{"i":132.5,"m":0.00224},{"i":133.5,"m":0.0029},{"i":134.8,"m":0.00241},{"i":136.5,"m":0.00101},{"i":138.5,"m":-0.00091},{"i":139.5,"m":-0.00115},{"i":140.5,"m":-0.0022},{"i":141.5,"m":-0.00259},{"i":143.5,"m":-0.00227},{"i":144.5,"m":-0.00129},{"i":145.5,"m":-0.00129},{"i":146.5,"m":-0.00178},{"i":148.5,"m":-0.00164},{"i":150.5,"m":-0.0022},{"i":152.5,"m":-0.00241},{"i":154.5,"m":-0.00161},{"i":156.5,"m":-0.00126},{"i":157.5,"m":-0.0015},{"i":158.5,"m":-0.00126},{"i":159.5,"m":-0.00143},{"i":160.8,"m":-0.00108},{"i":164.1,"m":-0.00049},{"i":167.5,"m":-0.00126},{"i":172.5,"m":-0.00136},{"i":175.3,"m":-0.00224},{"i":177.1,"m":-0.00171},{"i":180.1,"m":-0.00213},{"i":182.3,"m":-0.00217},{"i":184.1,"m":-0.00101},{"i":186.1,"m":-0.00066},{"i":188.3,"m":0.00031},{"i":189.1,"m":0.00028},{"i":193.1,"m":-0.00171},{"i":195.1,"m":-0.00381},{"i":197.1,"m":-0.00483},{"i":198.1,"m":-0.00563},{"i":199.1,"m":-0.0057},{"i":201.1,"m":-0.00636},{"i":202.1,"m":-0.00608},{"i":204.1,"m":-0.00619},{"i":205.1,"m":-0.00657},{"i":209.1,"m":-0.00563},{"i":211.3,"m":-0.00577},{"i":213.1,"m":-0.00311}],
"signal":[{"i":-6.9,"m":-0.00066},{"i":-3.9,"m":-0.00084},{"i":-1.2,"m":-0.00119},{"i":1.1,"m":-0.00168},{"i":2.8,"m":-0.00161},{"i":5.1,"m":-0.00073},{"i":7.1,"m":-0.00028},{"i":11.1,"m":0.00024},{"i":13.1,"m":0.00136},{"i":16.1,"m":0.00206},{"i":19.1,"m":0.00304},{"i":21.1,"m":0.00434},{"i":23.1,"m":0.00626},{"i":24.8,"m":0.00724},{"i":26.5,"m":0.00755},{"i":29.1,"m":0.00689},{"i":31.1,"m":0.00678},{"i":33.5,"m":0.00696},{"i":36.1,"m":0.00654},{"i":38.1,"m":0.00521},{"i":41.1,"m":0.00294},{"i":43.8,"m":0.00154},{"i":46.1,"m":0.00094},{"i":48.1,"m":0.0008},{"i":50.8,"m":0.00154},{"i":52.8,"m":0.00381},{"i":54.8,"m":0.00531},{"i":56.8,"m":0.00619},{"i":58.1,"m":0.00619},{"i":60.1,"m":0.00503},{"i":62.8,"m":0.00283},{"i":65.5,"m":0.00084},{"i":67.8,"m":-0.00003},{"i":69.5,"m":-0.00021},{"i":71.8,"m":0.00031},{"i":73.1,"m":0.00066},{"i":76.8,"m":0.00077},{"i":80.8,"m":0.00031},{"i":83.8,"m":-0.00021},{"i":87.8,"m":-0.0015},{"i":92.8,"m":-0.00213},{"i":94.5,"m":-0.00126},{"i":96.5,"m":0.00031},{"i":98.8,"m":0.00171},{"i":101.8,"m":0.00262},{"i":103.8,"m":0.00259},{"i":106.5,"m":0.00199},{"i":108.8,"m":0.00108},{"i":111.5,"m":0.00024},{"i":114.1,"m":-0.00045},{"i":116.1,"m":-0.00084},{"i":117.5,"m":-0.0001},{"i":119.5,"m":0.00136},{"i":121.5,"m":0.00213},{"i":124.1,"m":0.00231},{"i":126.5,"m":0.00189},{"i":129.1,"m":0.00094},{"i":130.8,"m":0.00063},{"i":132.8,"m":0.00112},{"i":135.5,"m":0.00171},{"i":138.1,"m":0.00084},{"i":141.1,"m":-0.00045},{"i":143.5,"m":-0.00119},{"i":148.5,"m":-0.0015},{"i":152.8,"m":-0.00199},{"i":156.1,"m":-0.00168},{"i":160.8,"m":-0.00145},{"i":165.1,"m":-0.00091},{"i":167.5,"m":-0.00101},{"i":172.5,"m":-0.00126},{"i":175.5,"m":-0.00168},{"i":178.1,"m":-0.00178},{"i":182.3,"m":-0.00203},{"i":186.1,"m":-0.00143},{"i":189.1,"m":-0.00066},{"i":191.1,"m":-0.00056},{"i":193.1,"m":-0.00091},{"i":195.1,"m":-0.00178},{"i":198.1,"m":-0.00343},{"i":201.1,"m":-0.00476},{"i":204.1,"m":-0.00545},{"i":206.1,"m":-0.00584},{"i":209.1,"m":-0.00584},{"i":211.3,"m":-0.00573},{"i":213.1,"m":-0.00507}],
"fib":[
{"i":169.3,"i2":189.2,"lx":168.4,"level":"0","p":0.226,"p2":0.1998,"label":"0(0.226)"},
{"i":169.3,"i2":189.2,"lx":168.4,"level":"0.236","p":0.1998,"p2":0.1836,"label":"0.236(0.200)"},
{"i":169.3,"i2":189.2,"lx":168.4,"level":"0.382","p":0.1836,"p2":0.1705,"label":"0.382(0.183)"},
{"i":169.3,"i2":189.2,"lx":168.4,"level":"0.5","p":0.1705,"p2":0.1574,"label":"0.5(0.170)"},
{"i":169.3,"i2":189.2,"lx":168.4,"level":"0.618","p":0.1574,"p2":0.1388,"label":"0.618(0.157)"},
{"i":169.3,"i2":189.2,"lx":168.4,"level":"0.786","p":0.1388,"p2":0.115,"label":"0.786(0.139)"},
{"i":169.3,"i2":189.2,"lx":168.4,"level":"1","p":0.115,"p2":0.10392,"label":"1(0.115)"}
],
"q":[{"i":-4.5,"p":0.1111,"side":"buy","t":"Q"},{"i":55.3,"p":0.1111,"side":"sell","t":"Q"},{"i":118.8,"p":0.1111,"side":"buy","t":"Q"},{"i":179.5,"p":0.1111,"side":"sell","t":"Q"}]
},
"vconcat":[
{
"width":1201,"height":326,
"encoding":{"x":{"field":"i","type":"quantitative","scale":{"domain":[-7.3,232.9]},"axis":null}},
"resolve":{"scale":{"y":"independent"}},
"layer":[
{"layer":[
{"data":{"values":[{"i":113,"p":0.1907,"t":"SMETRIC, 1D"}]},"mark":{"type":"text","fontSize":90,"font":"Lato","color":"#d6d9e2","baseline":"middle","align":"center"},"encoding":{"y":{"field":"p","type":"quantitative","scale":{"domain":[0.10392,0.25769]},"axis":null},"text":{"field":"t"}}},
{"data":{"values":[{"i":114.7,"p":0.1445,"t":"SECUREMETRIC BERHAD"}]},"mark":{"type":"text","fontSize":46,"font":"Open Sans","color":"#d6d9e2","baseline":"middle","align":"center"},"encoding":{"y":{"field":"p","type":"quantitative","scale":{"domain":[0.10392,0.25769]},"axis":null},"text":{"field":"t"}}},
{"data":{"name":"fib"},"mark":{"type":"rect"},"encoding":{"x2":{"field":"i2"},"y":{"field":"p","type":"quantitative","scale":{"domain":[0.10392,0.25769]},"axis":null},"y2":{"field":"p2"},"fill":{"field":"level","type":"nominal","legend":null,"scale":{"domain":["0","0.236","0.382","0.5","0.618","0.786","1"],"range":["#fdd8d6","#e8f3e6","#ddeedc","#cceae8","#dcecfc","#e3e3e5","#cfe6fd"]}}}}
]},
{"layer":[
{"data":{"name":"candles"},"mark":{"type":"rule","strokeWidth":3},"encoding":{"y":{"field":"v","type":"quantitative","scale":{"domain":[0,326]},"axis":null},"y2":{"datum":0},"color":{"condition":{"test":"datum.c<datum.o","value":"#e0506a"},"value":"#4bb38c"}}},
{"data":{"name":"vma"},"mark":{"type":"area","color":"#90caf9","opacity":0.5},"encoding":{"y":{"field":"v","type":"quantitative","scale":{"domain":[0,326]},"axis":null},"y2":{"datum":0}}}
]},
{"data":{"values":[{"i":-7.3,"i2":232.9,"p":0.14}]},"mark":{"type":"rule","color":"#26a69a","strokeWidth":1,"strokeDash":[1,2]},"encoding":{"x2":{"field":"i2"},"y":{"field":"p","type":"quantitative","scale":{"domain":[0.10392,0.25769]},"axis":{"orient":"right","values":[0.12,0.16,0.18,0.2,0.22],"format":".3f","title":null,"grid":false,"domain":false,"tickColor":"#787b86","tickSize":5,"labelColor":"#dcdcdc","labelFont":"Open Sans","labelFontSize":12,"labelFontWeight":600,"labelPadding":4}}}},
{"layer":[
{"data":{"name":"fib"},"mark":{"type":"rule","strokeWidth":1},"encoding":{"x2":{"field":"i2"},"y":{"field":"p","type":"quantitative","scale":{"domain":[0.10392,0.25769]},"axis":null},"stroke":{"field":"level","type":"nominal","legend":null,"scale":{"domain":["0","0.236","0.382","0.5","0.618","0.786","1"],"range":["#787b86","#f23645","#81c784","#4caf50","#089981","#64b5f6","#787b86"]}}}},
{"data":{"name":"fib"},"mark":{"type":"text","align":"right","baseline":"middle","dy":-7,"fontSize":12,"font":"Open Sans"},"encoding":{"x":{"field":"lx","type":"quantitative"},"y":{"field":"p","type":"quantitative","scale":{"domain":[0.10392,0.25769]},"axis":null},"text":{"field":"label"},"color":{"field":"level","type":"nominal","legend":null,"scale":{"domain":["0","0.236","0.382","0.5","0.618","0.786","1"],"range":["#787b86","#f23645","#81c784","#4caf50","#089981","#64b5f6","#787b86"]}}}},
{"data":{"values":[{"i":169.3,"p":0.115},{"i":189.2,"p":0.226}]},"mark":{"type":"line","color":"#787b86","strokeWidth":1,"strokeDash":[5,5]},"encoding":{"y":{"field":"p","type":"quantitative","scale":{"domain":[0.10392,0.25769]},"axis":null}}},
{"data":{"name":"candles"},"mark":{"type":"rule","strokeWidth":1},"encoding":{"y":{"field":"h","type":"quantitative","scale":{"domain":[0.10392,0.25769]},"axis":null},"y2":{"field":"l"},"color":{"condition":{"test":"datum.c<datum.o","value":"#ef5350"},"value":"#26a69a"}}},
{"data":{"name":"candles"},"mark":{"type":"rule","strokeWidth":3},"encoding":{"y":{"field":"o","type":"quantitative","scale":{"domain":[0.10392,0.25769]},"axis":null},"y2":{"field":"c"},"color":{"condition":{"test":"datum.c<datum.o","value":"#ef5350"},"value":"#26a69a"}}},
{"data":{"name":"candles"},"transform":[{"filter":"datum.o==datum.c"}],"mark":{"type":"tick","orient":"horizontal","size":3,"thickness":1,"color":"#26a69a","opacity":1},"encoding":{"y":{"field":"o","type":"quantitative","scale":{"domain":[0.10392,0.25769]},"axis":null}}},
{"data":{"name":"dema7"},"mark":{"type":"line","color":"#43a047","strokeWidth":2,"clip":true},"encoding":{"y":{"field":"p","type":"quantitative","scale":{"domain":[0.10392,0.25769]},"axis":null}}},
{"data":{"name":"dema21"},"mark":{"type":"line","color":"#311b92","strokeWidth":2,"clip":true},"encoding":{"y":{"field":"p","type":"quantitative","scale":{"domain":[0.10392,0.25769]},"axis":null}}},
{"data":{"name":"q"},"mark":{"type":"point","shape":"circle","size":452,"filled":false,"strokeWidth":1.6,"opacity":1},"encoding":{"y":{"field":"p","type":"quantitative","scale":{"domain":[0.10392,0.25769]},"axis":null},"color":{"condition":{"test":"datum.side=='buy'","value":"#1b8f1b"},"value":"#f01414"}}},
{"data":{"name":"q"},"mark":{"type":"text","fontSize":14,"font":"Liberation Serif","baseline":"middle","opacity":0.75},"encoding":{"y":{"field":"p","type":"quantitative","scale":{"domain":[0.10392,0.25769]},"axis":null},"text":{"field":"t"},"color":{"condition":{"test":"datum.side=='buy'","value":"#1b8f1b"},"value":"#f01414"}}},
{"data":{"values":[{"i":232.9,"i2":242.3,"p":0.1444,"p2":0.1354}]},"mark":{"type":"rect","color":"#26a69a"},"encoding":{"x2":{"field":"i2"},"y":{"field":"p","type":"quantitative","scale":{"domain":[0.10392,0.25769]},"axis":null},"y2":{"field":"p2"}}},
{"data":{"values":[{"i":237.7,"p":0.14,"t":"0.140"}]},"mark":{"type":"text","color":"white","fontWeight":"bold","fontSize":12,"font":"Open Sans","baseline":"middle"},"encoding":{"y":{"field":"p","type":"quantitative","scale":{"domain":[0.10392,0.25769]},"axis":null},"text":{"field":"t"}}},
{"data":{"values":[{"i":232.9,"p":0.2388,"p2":0.10392}]},"mark":{"type":"rule","color":"#787b86","strokeWidth":1.5},"encoding":{"y":{"field":"p","type":"quantitative","scale":{"domain":[0.10392,0.25769]},"axis":null},"y2":{"field":"p2"}}},
{"data":{"values":[{"i":-7.3,"i2":245,"p":0.10392}]},"mark":{"type":"rule","color":"#787b86","strokeWidth":1.5},"encoding":{"x2":{"field":"i2"},"y":{"field":"p","type":"quantitative","scale":{"domain":[0.10392,0.25769]},"axis":null}}},
{"data":{"values":[{"i":-6.2,"p":0.2566,"p2":0.249},{"i":-5.8,"p":0.2555,"p2":0.249},{"i":-5,"p":0.2535,"p2":0.249},{"i":-4,"p":0.2515,"p2":0.249},{"i":-3,"p":0.2498,"p2":0.249}]},"mark":{"type":"area","color":"#f5a11c"},"encoding":{"y":{"field":"p","type":"quantitative","scale":{"domain":[0.10392,0.25769]},"axis":null},"y2":{"field":"p2"}}},
{"data":{"values":[{"i":-5.6,"p":0.2566},{"i":-4.6,"p":0.2545},{"i":-3.4,"p":0.2525}]},"mark":{"type":"line","color":"#2aa198","strokeWidth":1.5},"encoding":{"y":{"field":"p","type":"quantitative","scale":{"domain":[0.10392,0.25769]},"axis":null}}},
{"data":{"values":[{"i":-1.8,"p":0.2529,"t":"Published by Zam Taufufa on KlseScreener.com, Oct 17 2021, 19:44 MYT."}]},"mark":{"type":"text","align":"left","baseline":"middle","fontSize":10.5,"font":"Open Sans","color":"#dcdcdc"},"encoding":{"y":{"field":"p","type":"quantitative","scale":{"domain":[0.10392,0.25769]},"axis":null},"text":{"field":"t"}}},
{"data":{"values":[{"i":-6.3,"p":0.2449,"t":"FBMKLCI:SMETRIC,D  O:0.135 H:0.140 L:0.130 C:0.140"}]},"mark":{"type":"text","align":"left","baseline":"middle","fontSize":11.6,"font":"DejaVu Sans Mono","fontWeight":"bold","color":"#e4e4e4"},"encoding":{"y":{"field":"p","type":"quantitative","scale":{"domain":[0.10392,0.25769]},"axis":null},"text":{"field":"t"}}},
{"data":{"values":[{"i":-5.5,"p":0.2331,"t":"DEMA (21)"},{"i":-5.5,"p":0.2237,"t":"Volume (20)"},{"i":-5.5,"p":0.2142,"t":"DEMA (7)"}]},"mark":{"type":"text","align":"left","baseline":"middle","fontSize":10,"font":"DejaVu Sans Mono","color":"#e0e0e0"},"encoding":{"y":{"field":"p","type":"quantitative","scale":{"domain":[0.10392,0.25769]},"axis":null},"text":{"field":"t"}}}
]}
]
},
{
"width":1201,"height":195,
"encoding":{"x":{"field":"i","type":"quantitative","scale":{"domain":[-7.3,232.9]},"axis":{"values":[0.1,22,40.9,58.7,81.7,102.5,120.3,141.3,162.1,182.1,203,223.9],"labelExpr":"{'0.1':'Dec','22':'2021','40.9':'Feb','58.7':'Mar','81.7':'Apr','102.5':'May','120.3':'Jun','141.3':'Jul','162.1':'Aug','182.1':'Sep','203':'Oct','223.9':'Nov'}[datum.value]","title":null,"grid":false,"domain":false,"tickColor":"#787b86","tickSize":3,"labelColor":"#dcdcdc","labelFont":"Open Sans","labelFontSize":12,"labelFontWeight":{"condition":{"test":"datum.value==22","value":"bold"},"value":600},"labelPadding":4,"labelOverlap":false,"labelFlush":false,"labelBound":false}}},
"layer":[
{"data":{"name":"candles"},"mark":{"type":"rule","strokeWidth":1},"encoding":{"y":{"field":"d","type":"quantitative","scale":{"domain":[-0.00835,0.01209]},"axis":{"orient":"right","values":[-0.005,0,0.005,0.01],"format":".4f","title":null,"grid":false,"domain":false,"tickColor":"#787b86","tickSize":5,"labelColor":"#dcdcdc","labelFont":"Open Sans","labelFontSize":12,"labelFontWeight":600,"labelPadding":4}},"y2":{"datum":0},"color":{"field":"k","type":"nominal","legend":null,"scale":{"domain":["up","uf","dn","df"],"range":["#5cbfb3","#c6e6e3","#ff8585","#ffd6da"]}}}},
{"data":{"name":"macd"},"mark":{"type":"line","color":"#6a6aff","strokeWidth":1.2,"clip":true},"encoding":{"y":{"field":"m","type":"quantitative","scale":{"domain":[-0.00835,0.01209]}}}},
{"data":{"name":"signal"},"mark":{"type":"line","color":"#ff6b6b","strokeWidth":1.2,"clip":true},"encoding":{"y":{"field":"m","type":"quantitative","scale":{"domain":[-0.00835,0.01209]}}}},
{"data":{"values":[{"i":232.9,"m":0.01209,"m2":-0.01129}]},"mark":{"type":"rule","color":"#787b86","strokeWidth":1.5},"encoding":{"y":{"field":"m","type":"quantitative","scale":{"domain":[-0.00835,0.01209]}},"y2":{"field":"m2"}}},
{"data":{"values":[{"i":-7.3,"i2":245,"m":-0.00835}]},"mark":{"type":"rule","color":"#787b86","strokeWidth":1.5},"encoding":{"x2":{"field":"i2"},"y":{"field":"m","type":"quantitative","scale":{"domain":[-0.00835,0.01209]}}}},
{"data":{"values":[{"i":-5.5,"m":0.01072,"t":"MACD (12, 26, close, 9)"}]},"mark":{"type":"text","align":"left","baseline":"middle","fontSize":10,"font":"DejaVu Sans Mono","color":"#e0e0e0"},"encoding":{"y":{"field":"m","type":"quantitative","scale":{"domain":[-0.00835,0.01209]}},"text":{"field":"t"}}}
]
}
]
}
